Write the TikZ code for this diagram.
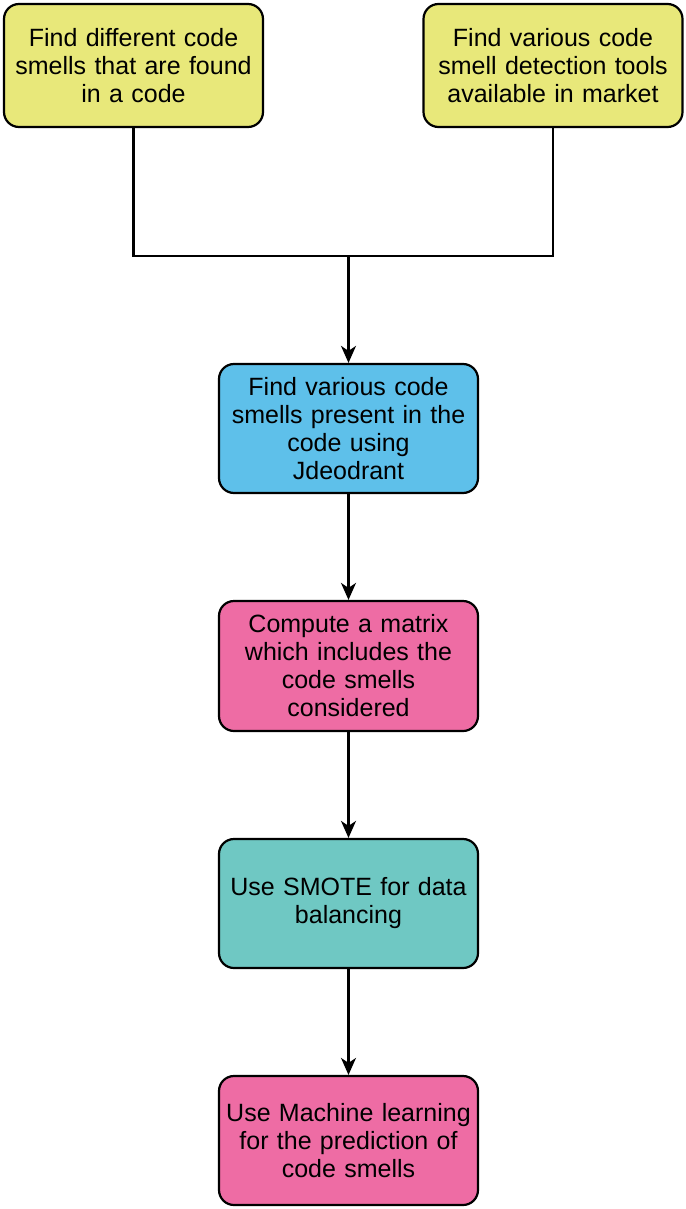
\documentclass[tikz,border=0pt]{standalone}
\usepackage{fontspec}
\setmainfont{Liberation Sans}
\usetikzlibrary{arrows.meta}
\definecolor{cyel}{HTML}{E8E87A}
\definecolor{cblue}{HTML}{5EC0EA}
\definecolor{cpink}{HTML}{EE6CA4}
\definecolor{cteal}{HTML}{6FC8C3}
\tikzset{
  stepbox/.style={draw=black, line width=2.2pt, rounded corners=15pt, minimum width=259pt, text width=252pt, align=center, inner sep=2pt,
    font=\fontsize{25pt}{28pt}\selectfont},
  conn/.style={line width=2.2pt, draw=black},
  arr/.style={conn, -{Stealth[length=17pt, width=15pt, inset=5pt]}}
}
\begin{document}
\begin{tikzpicture}[x=1pt,y=-1pt]
\useasboundingbox (0,0) rectangle (685,1209);
\node[stepbox, fill=cyel, minimum height=123pt] (a) at (133.5,65.5) {Find different code\\smells that are found\\in a code};
\node[stepbox, fill=cyel, minimum height=123pt] (b) at (553,65.5) {Find various code\\smell detection tools\\available in market};
\node[stepbox, fill=cblue, minimum height=129pt] (c) at (348.5,428.5) {Find various code\\smells present in the\\code using\\Jdeodrant};
\node[stepbox, fill=cpink, minimum height=130pt] (d) at (348.5,666) {Compute a matrix\\which includes the\\code smells\\considered};
\node[stepbox, fill=cteal, minimum height=129pt] (e) at (348.5,903.5) {Use SMOTE for data\\balancing};
\node[stepbox, fill=cpink, minimum height=129pt] (f) at (348.5,1140.5) {Use Machine learning\\for the prediction of\\code smells};
\coordinate (j) at (348.5,256);
\draw[conn] (a.south) |- (j) -| (b.south);
\draw[arr] (j) -- (c.north);
\draw[arr] (c) -- (d);
\draw[arr] (d) -- (e);
\draw[arr] (e) -- (f);
\end{tikzpicture}
\end{document}
